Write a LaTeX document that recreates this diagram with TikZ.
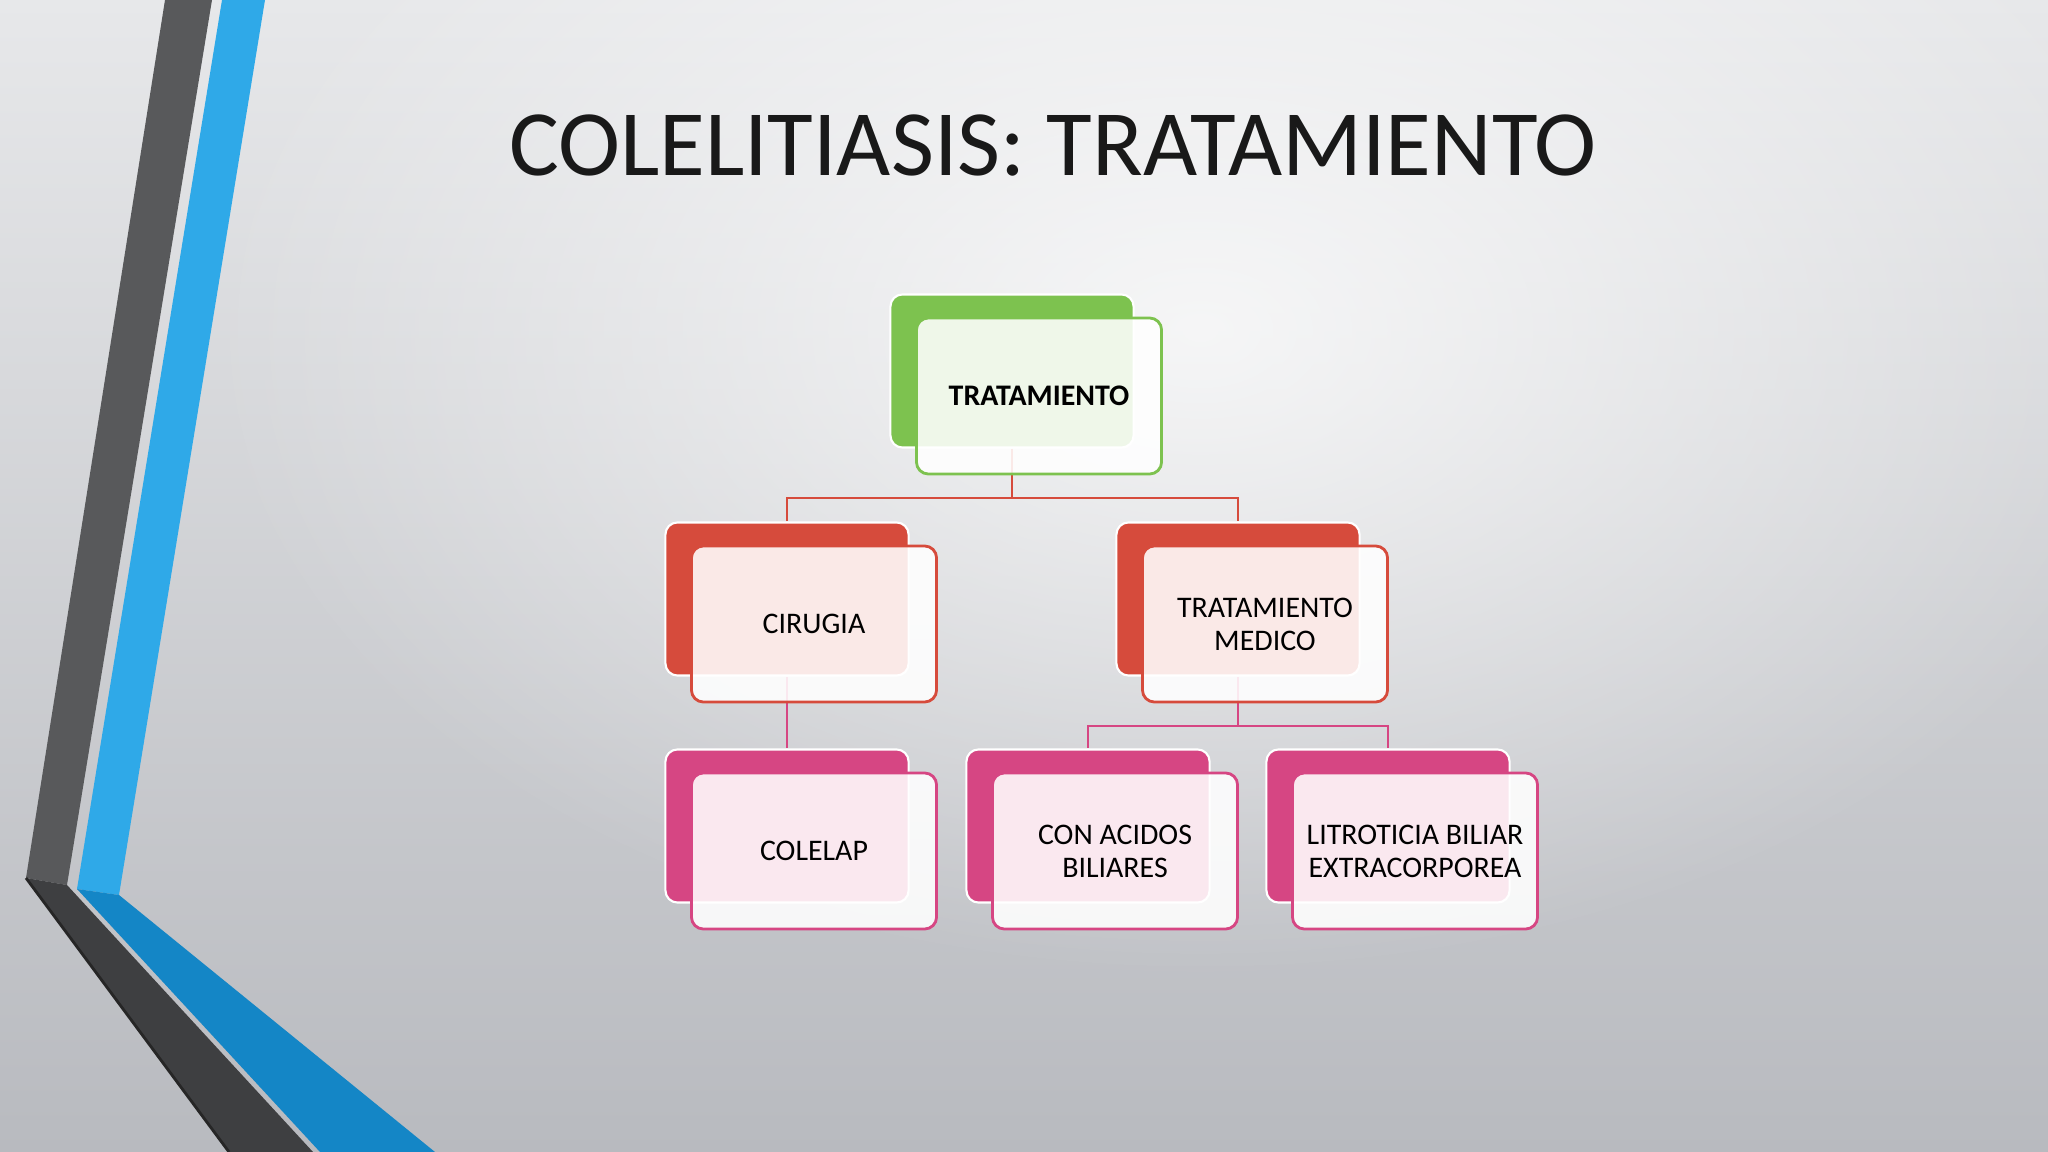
\documentclass[tikz,border=0pt]{standalone}
\usepackage{fontspec}
\setmainfont{Carlito}
\usetikzlibrary{positioning,fadings}

\definecolor{bgtop}{HTML}{E7E8EA}
\definecolor{bgmid}{HTML}{DDDEE1}
\definecolor{bgbottom}{HTML}{B8BABF}
\definecolor{stripedark}{HTML}{58595B}
\definecolor{stripedarklow}{HTML}{3E3F41}
\definecolor{stripeblue}{HTML}{2FA9E8}
\definecolor{stripebluelow}{HTML}{1486C6}
\definecolor{tgreen}{HTML}{7DC24F}
\definecolor{tred}{HTML}{D64B3C}
\definecolor{tpink}{HTML}{D64683}

\pgfdeclarelayer{backdrop}
\pgfdeclarelayer{wires}
\pgfsetlayers{backdrop,wires,main}

\tikzfading[name=glow, inner color=transparent!0, outer color=transparent!100]

\tikzset{
  backbox/.style={rounded corners=0.12cm, minimum width=2.43cm, minimum height=1.53cm,
    fill=#1, draw=white, line width=0.6pt},
  frontbox/.style={rounded corners=0.12cm, minimum width=2.45cm, minimum height=1.56cm,
    draw=#1, line width=0.8pt, fill=white, fill opacity=0.88, text opacity=1,
    align=center, font=\fontsize{8.5}{9.4}\selectfont},
  wire/.style={draw=#1, line width=0.8pt},
  titletext/.style={font=\fontsize{26.6}{32}\selectfont, text=black!90}
}

\begin{document}
\begin{tikzpicture}[x=0.01cm, y=-0.01cm]
\useasboundingbox (0,0) rectangle (2048,1152);

% background and stripes
\begin{pgfonlayer}{backdrop}
\shade[top color=bgtop, middle color=bgmid, bottom color=bgbottom] (0,0) rectangle (2048,1152);
\fill[white, opacity=0.75, path fading=glow] (1200,330) ellipse (1000 and 650);
\fill[stripedark] (165,0) -- (212,0) -- (67,885) -- (26,878) -- cycle;
\fill[stripedarklow] (26,878) -- (67,885) -- (313,1152) -- (229,1152) -- cycle;
\draw[black!85, line width=0.8pt] (26,878) -- (229,1152);
\fill[stripeblue] (222,0) -- (265,0) -- (119,895) -- (77,889) -- cycle;
\fill[stripebluelow] (77,889) -- (119,895) -- (435,1152) -- (320,1152) -- cycle;
\end{pgfonlayer}

\node[titletext] (title) at (1053,146) {COLELITIASIS: TRATAMIENTO};

% level 1
\node[backbox=tgreen] (trBack) at (1012,371) {};
\node[frontbox=tgreen] (trFront) at ([shift={(27,25)}]trBack.center) {\bfseries TRATAMIENTO};

% level 2
\node[backbox=tred] (cirBack) at (787,599) {};
\node[frontbox=tred] (cirFront) at ([shift={(27,25)}]cirBack.center) {CIRUGIA};
\node[backbox=tred] (medBack) at (1238,599) {};
\node[frontbox=tred] (medFront) at ([shift={(27,25)}]medBack.center) {TRATAMIENTO\\MEDICO};

% level 3
\node[backbox=tpink] (colBack) at (787,826) {};
\node[frontbox=tpink] (colFront) at ([shift={(27,25)}]colBack.center) {COLELAP};
\node[backbox=tpink] (acBack) at (1088,826) {};
\node[frontbox=tpink] (acFront) at ([shift={(27,25)}]acBack.center) {CON ACIDOS\\BILIARES};
\node[backbox=tpink] (litBack) at (1388,826) {};
\node[frontbox=tpink] (litFront) at ([shift={(27,25)}]litBack.center) {LITROTICIA BILIAR\\EXTRACORPOREA};

\coordinate (busA) at (0,498);
\coordinate (busB) at (0,726);

\begin{pgfonlayer}{wires}
\draw[wire=tred] (trBack.south) |- (busA -| cirBack) -- (cirBack.north);
\draw[wire=tred] (trBack.south) |- (busA -| medBack) -- (medBack.north);
\draw[wire=tpink] (cirBack.south) -- (colBack.north);
\draw[wire=tpink] (medBack.south) |- (busB -| acBack) -- (acBack.north);
\draw[wire=tpink] (medBack.south) |- (busB -| litBack) -- (litBack.north);
\end{pgfonlayer}
\end{tikzpicture}
\end{document}
